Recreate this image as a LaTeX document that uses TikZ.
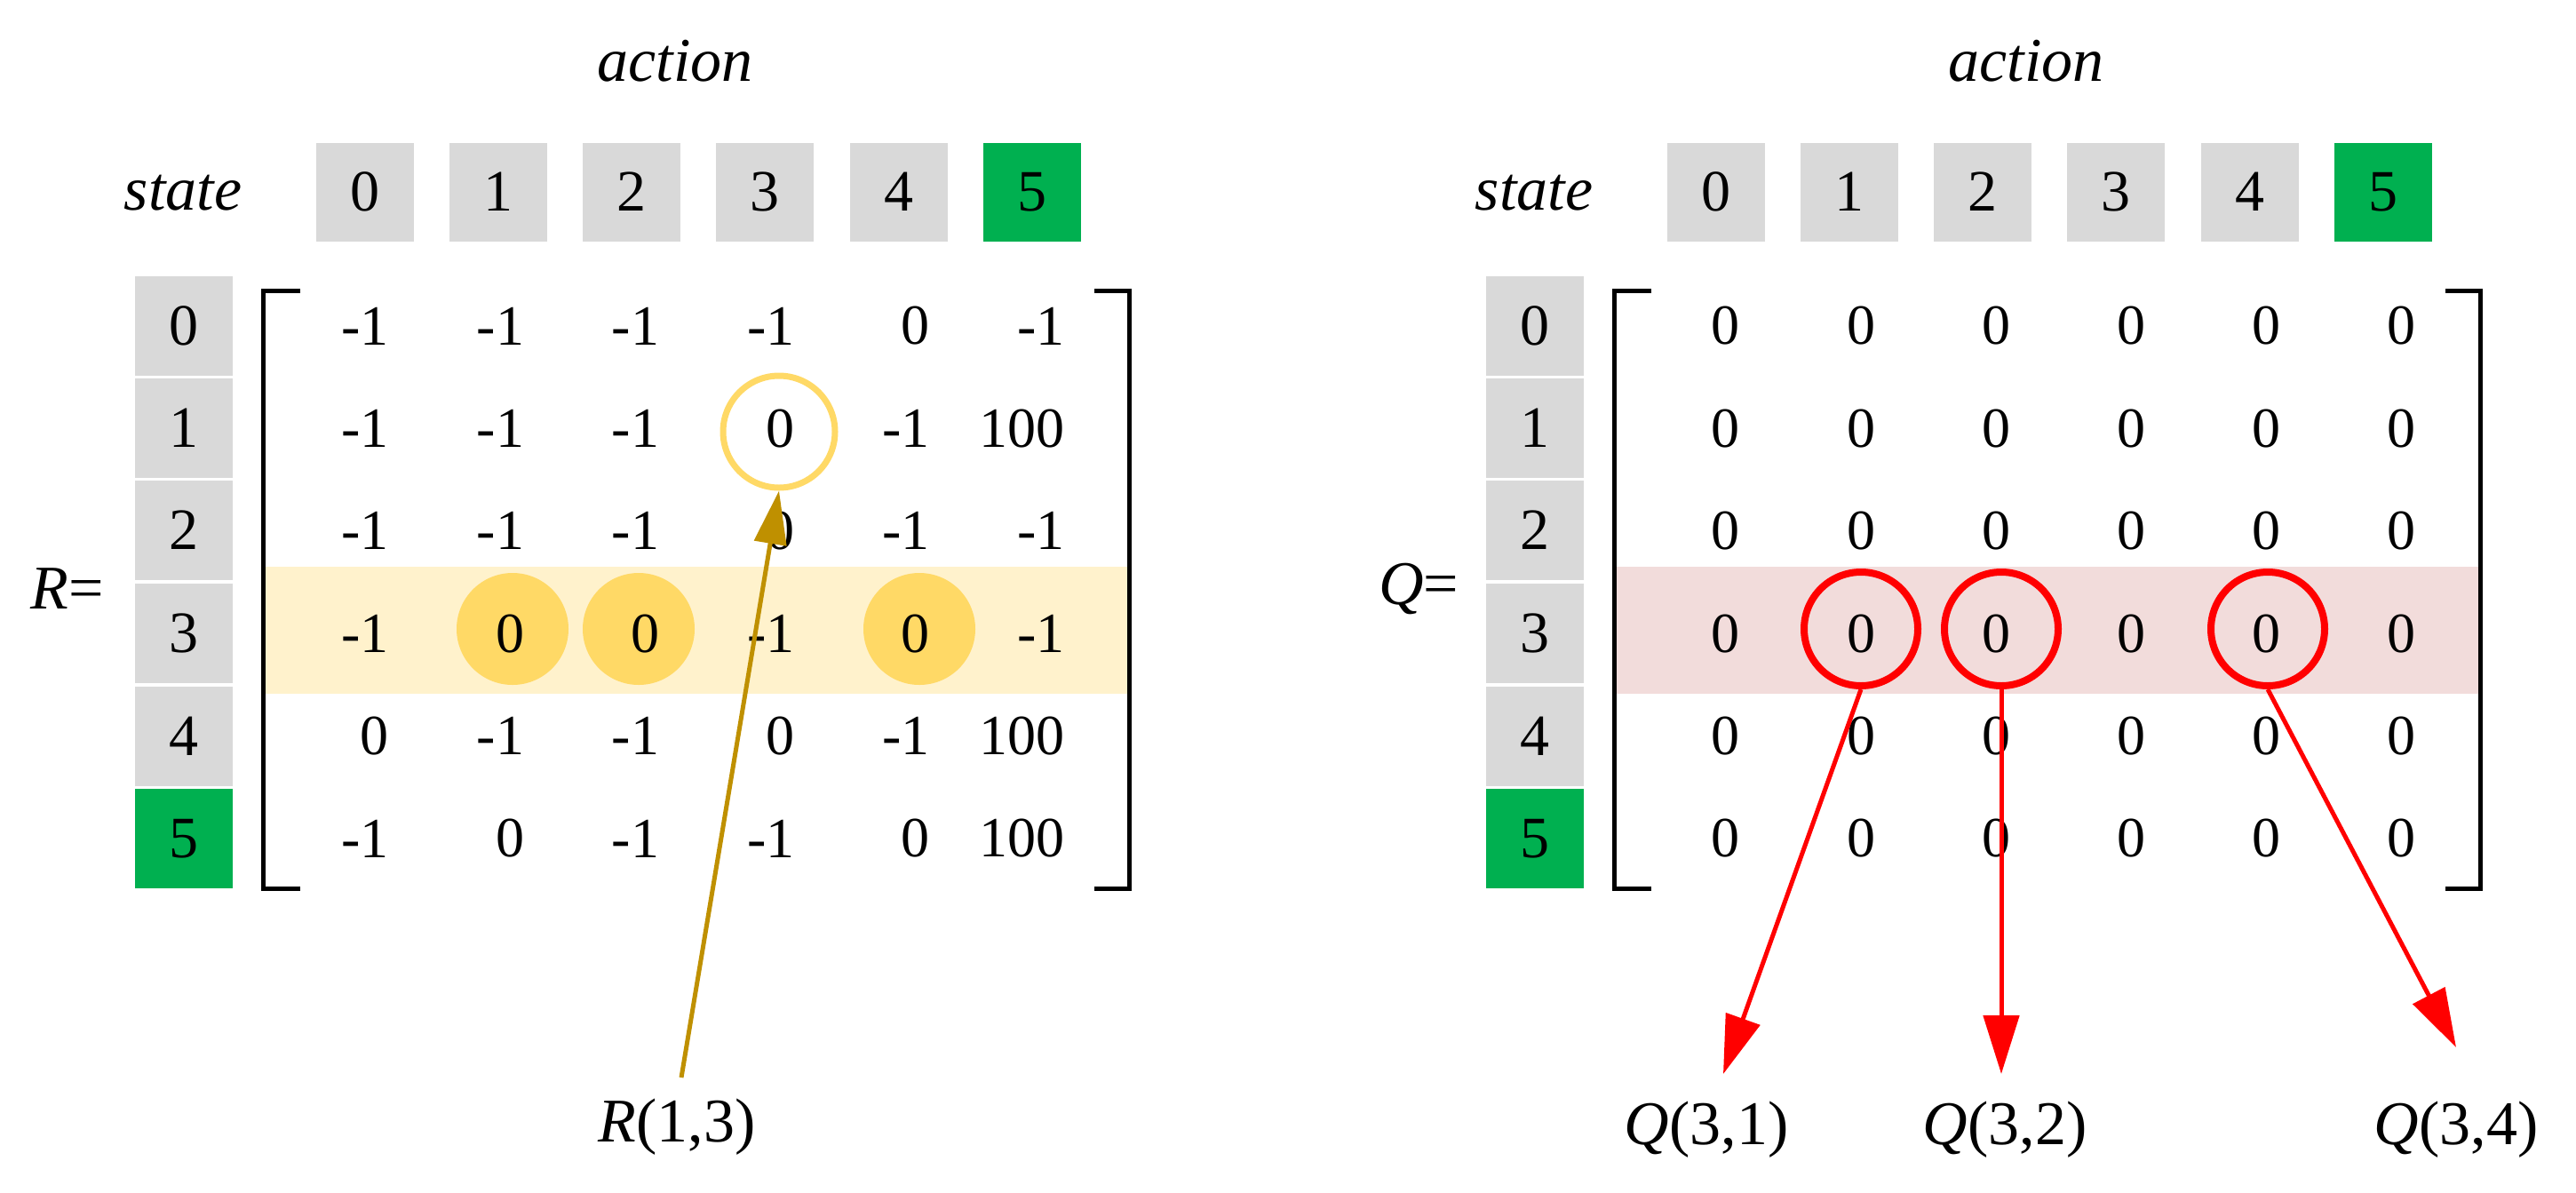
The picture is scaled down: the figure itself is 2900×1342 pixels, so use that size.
\documentclass[tikz,border=0pt]{standalone}
\usepackage{fontspec}
\setmainfont{Liberation Serif}
\usetikzlibrary{arrows.meta}
\definecolor{hgrey}{HTML}{D9D9D9}
\definecolor{hgreen}{HTML}{00B050}
\definecolor{yband}{HTML}{FFF2CC}
\definecolor{ycirc}{HTML}{FFD966}
\definecolor{gold}{HTML}{BF9000}
\definecolor{pband}{HTML}{F2DCDB}
\definecolor{qred}{HTML}{FF0000}
\tikzset{
  hdr/.style={minimum width=110pt,minimum height=111pt,inner sep=0pt,fill=hgrey,font=\fontsize{66}{80}\selectfont},
  rhdr/.style={minimum width=110pt,minimum height=112pt,inner sep=0pt,fill=hgrey,font=\fontsize{66}{80}\selectfont},
  ent/.style={anchor=east,inner sep=0pt,font=\fontsize{64}{80}\selectfont},
  lbl/.style={inner sep=0pt,font=\fontsize{70}{84}\selectfont},
  brk/.style={line width=5pt},
}
\begin{document}
\begin{tikzpicture}[x=1pt,y=-1pt]
\useasboundingbox (0,0) rectangle (2900,1342);
% ---------- LEFT
\fill[yband] (297,638) rectangle (1271,781);
\foreach \c/\x in {1/577,2/719,4/1035}{\fill[ycirc] (\x,708) circle (63);}
\node[lbl] (actL) at (760,69) {\itshape action};
\node[lbl] (stL) at (206,217) {\itshape state};
\node[lbl] (RL) at (76,663) {\itshape R\upshape=};
\foreach \i/\x in {0/411,1/561,2/711,3/861,4/1012,5/1162}{
  \ifnum\i=5 \node[hdr,fill=hgreen] (lc\i) at (\x,216) {\i};
  \else \node[hdr] (lc\i) at (\x,216) {\i};\fi}
\foreach \i/\y in {0/367,1/482,2/597,3/713,4/829,5/944}{
  \ifnum\i=5 \node[rhdr,fill=hgreen] (lr\i) at (207,\y) {\i};
  \else \node[rhdr] (lr\i) at (207,\y) {\i};\fi}
\draw[brk] (338,327) -- (296,327) -- (296,1000) -- (338,1000);
\draw[brk] (1232,327) -- (1271,327) -- (1271,1000) -- (1232,1000);
\foreach \row [count=\r from 0] in {{-1,-1,-1,-1,0,-1},{-1,-1,-1,0,-1,100},{-1,-1,-1,0,-1,-1},{-1,0,0,-1,0,-1},{0,-1,-1,0,-1,100},{-1,0,-1,-1,0,100}}{
  \foreach \v [count=\c from 0] in \row {
    \pgfmathsetmacro\xx{438+152.2*\c}
    \pgfmathsetmacro\yy{367+115.4*\r}
    \node[ent] (l\r\c) at (\xx,\yy) {\v};}}
\node[circle,draw=ycirc,line width=7pt,minimum size=126pt,inner sep=0pt] (oc) at (877,486) {};
\node[lbl] (R13) at (762,1269) {\itshape R\upshape(1,3)};
\coordinate (ra) at (767,1213);
\draw[gold,line width=5pt,-{Triangle[length=60pt,width=36pt]}] (ra) -- (oc.south);
% ---------- RIGHT
\fill[pband] (1818,638) rectangle (2792,781);
\node[lbl] (actR) at (2281,69) {\itshape action};
\node[lbl] (stR) at (1727,217) {\itshape state};
\node[lbl] (QL) at (1597,663) {\itshape Q\upshape=};
\foreach \i/\x in {0/1932,1/2082,2/2232,3/2382,4/2533,5/2683}{
  \ifnum\i=5 \node[hdr,fill=hgreen] (rc\i) at (\x,216) {\i};
  \else \node[hdr] (rc\i) at (\x,216) {\i};\fi}
\foreach \i/\y in {0/367,1/482,2/597,3/713,4/829,5/944}{
  \ifnum\i=5 \node[rhdr,fill=hgreen] (rr\i) at (1728,\y) {\i};
  \else \node[rhdr] (rr\i) at (1728,\y) {\i};\fi}
\draw[brk] (1859,327) -- (1817,327) -- (1817,1000) -- (1859,1000);
\draw[brk] (2753,327) -- (2792,327) -- (2792,1000) -- (2753,1000);
\foreach \r in {0,...,5}{
  \foreach \c in {0,...,5}{
    \pgfmathsetmacro\xx{1959+152.2*\c}
    \pgfmathsetmacro\yy{367+115.4*\r}
    \node[ent] (q\r\c) at (\xx,\yy) {0};}}
\foreach \n/\x in {1/2095,2/2253,4/2553}{
  \node[circle,draw=qred,line width=8pt,minimum size=128pt,inner sep=0pt] (qc\n) at (\x,708) {};}
\node[lbl] (Q31) at (1921,1272) {\itshape Q\upshape(3,1)};
\node[lbl] (Q32) at (2257,1272) {\itshape Q\upshape(3,2)};
\node[lbl] (Q34) at (2765,1272) {\itshape Q\upshape(3,4)};
\coordinate (e1) at (1940,1209);
\coordinate (e2) at (2253,1209);
\coordinate (e4) at (2765,1179);
\foreach \n in {1,2,4}{
  \draw[qred,line width=5pt,-{Triangle[length=66pt,width=40pt]}] (qc\n.south) -- (e\n);}
\end{tikzpicture}
\end{document}
